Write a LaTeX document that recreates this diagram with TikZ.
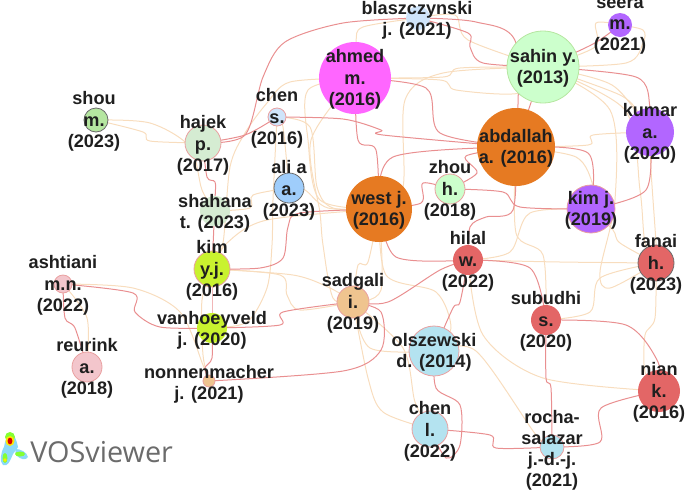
\documentclass[tikz,border=0pt]{standalone}
\usepackage{fontspec}
\setmainfont{Liberation Sans}
\newfontfamily\labfont{Liberation Sans Bold}
\newfontfamily\logofont{Open Sans}
\pgfdeclarelayer{edges}
\pgfsetlayers{edges,main}
\definecolor{cR}{HTML}{E98F90}
\definecolor{cO}{HTML}{F8DDBE}
\definecolor{cOut}{HTML}{E9A0A0}
\definecolor{cDark}{HTML}{6A6A6A}
\definecolor{cGreenA}{HTML}{B5E6A0}
\definecolor{cGreenB}{HTML}{D5ECD2}
\definecolor{cGreenC}{HTML}{CCFFCC}
\definecolor{cBlueA}{HTML}{CFE4FA}
\definecolor{cBlueB}{HTML}{9FCDFB}
\definecolor{cLime}{HTML}{C9F22F}
\definecolor{cPink}{HTML}{F3C6CC}
\definecolor{cTan}{HTML}{EFC48F}
\definecolor{cMag}{HTML}{FF66FF}
\definecolor{cPur}{HTML}{B266FF}
\definecolor{cOrg}{HTML}{E67A22}
\definecolor{cRed}{HTML}{E36666}
\definecolor{cCyan}{HTML}{B4E3F0}
\tikzset{
  x=0.75pt,y=-0.75pt,
  R/.style={draw=cR,line width=0.75pt},
  O/.style={draw=cO,line width=0.75pt},
  dot/.style={circle,inner sep=0pt,outer sep=0pt,minimum size=#1*1.5pt,line width=0.6pt,draw=cOut},
  lab/.style={align=center,inner sep=0pt,yshift=-1.1pt,text=black!88,font=\labfont\fontsize{13.6pt}{15.9pt}\selectfont},
  crv/.style={smooth,tension=0.5}
}
\begin{document}
\begin{tikzpicture}
\useasboundingbox (0,0) rectangle (685,490);
% circles
\node[dot=12,fill=cGreenA,draw=cDark] (shou) at (96,120) {};
\node[dot=18,fill=cGreenB] (hajek) at (203,143) {};
\node[dot=9,fill=cBlueA] (chens) at (277,117) {};
\node[dot=15,fill=cBlueB,draw=cDark] (alia) at (289,188) {};
\node[dot=15,fill=cGreenB,draw=none] (shahana) at (215,211) {};
\node[dot=18,fill=cLime] (kimy) at (212,269) {};
\node[dot=9,fill=cPink] (ashtiani) at (63,284) {};
\node[dot=15,fill=cPink] (reurink) at (87,367) {};
\node[dot=15,fill=cLime,draw=none] (vanh) at (212,328) {};
\node[dot=6,fill=cTan] (nonnen) at (209,381) {};
\node[dot=16,fill=cTan] (sadgali) at (353,302) {};
\node[dot=36,fill=cMag,draw=none] (ahmed) at (355,78) {};
\node[dot=12,fill=cBlueA,draw=none] (blasz) at (418,18) {};
\node[dot=36,fill=cGreenC,draw=cGreenA] (sahin) at (543,67) {};
\node[dot=12,fill=cPur,draw=none] (seera) at (620,25) {};
\node[dot=24,fill=cPur,draw=none] (kumar) at (650,132) {};
\node[dot=39,fill=cOrg,draw=none] (abdallah) at (516,147) {};
\node[dot=15,fill=cGreenC] (zhou) at (450,189) {};
\node[dot=24,fill=cPur] (kimj) at (591,209) {};
\node[dot=33,fill=cOrg,draw=none] (west) at (379,209) {};
\node[dot=15,fill=cRed,draw=none] (hilal) at (468,260) {};
\node[dot=18,fill=cRed,draw=cDark] (fanai) at (656,263) {};
\node[dot=15,fill=cRed,draw=none] (subudhi) at (546,320) {};
\node[dot=21,fill=cRed,draw=none] (nian) at (659,391) {};
\node[dot=25,fill=cCyan] (olsz) at (434,351) {};
\node[dot=18,fill=cCyan] (chenl) at (430,429) {};
\node[dot=12,fill=cCyan] (rocha) at (552,447) {};
% labels
\node[lab] (Lshou) at (94,120) {shou\\m.\\(2023)};
\node[lab] (Lhajek) at (203,144) {hajek\\p.\\(2017)};
\node[lab] (Lchens) at (277,117) {chen\\s.\\(2016)};
\node[lab] (Lalia) at (289,189) {ali a\\a.\\(2023)};
\node[lab] (Lshahana) at (215,212) {shahana\\t. (2023)};
\node[lab] (Lkimy) at (212,269) {kim\\y.j.\\(2016)};
\node[lab] (Lashtiani) at (63,284) {ashtiani\\m.n.\\(2022)};
\node[lab] (Lreurink) at (87,367) {reurink\\a.\\(2018)};
\node[lab] (Lvanh) at (212,329) {vanhoeyveld\\j. (2020)};
\node[lab] (Lnonnen) at (209,383) {nonnenmacher\\j. (2021)};
\node[lab] (Lsadgali) at (353,302) {sadgali\\i.\\(2019)};
\node[lab] (Lahmed) at (355,78) {ahmed\\m.\\(2016)};
\node[lab] (Lblasz) at (417,19) {blaszczynski\\j. (2021)};
\node[lab] (Lsahin) at (543,67) {sahin y.\\(2013)};
\node[lab] (Lseera) at (620,25) {seera\\m.\\(2021)};
\node[lab] (Lkumar) at (650,132) {kumar\\a.\\(2020)};
\node[lab] (Labdallah) at (516,147) {abdallah\\a. (2016)};
\node[lab] (Lzhou) at (450,189) {zhou\\h.\\(2018)};
\node[lab] (Lkimj) at (591,209) {kim j.\\(2019)};
\node[lab] (Lwest) at (379,209) {west j.\\(2016)};
\node[lab] (Lhilal) at (468,260) {hilal\\w.\\(2022)};
\node[lab] (Lfanai) at (656,263) {fanai\\h.\\(2023)};
\node[lab] (Lsubudhi) at (546,320) {subudhi\\s.\\(2020)};
\node[lab] (Lnian) at (659,391) {nian\\k.\\(2016)};
\node[lab] (Lolsz) at (434,351) {olszewski\\d. (2014)};
\node[lab] (Lchenl) at (430,430) {chen\\l.\\(2022)};
\node[lab] (Lrocha) at (552,449) {rocha-\\salazar\\j.-d.-j.\\(2021)};
% logo
\node[anchor=west,inner sep=0pt,text=black!58,font=\logofont\fontsize{21.6pt}{24pt}\selectfont] (logotext) at (30,452) {VOSviewer};
\fill[cyan!45] (10,434) .. controls (14,433) and (17,441) .. (18,447) .. controls (16,451) and (14,452) .. (13,454) .. controls (10,461) and (8,467) .. (3,465) .. controls (-1,462) and (1,452) .. (4,447) .. controls (5,441) and (7,435) .. (10,434) -- cycle;
\fill[cyan!45] (16,449) .. controls (20,449) and (27,452) .. (28,457) .. controls (26,461) and (20,459) .. (17,456) .. controls (15,454) and (15,451) .. (16,449) -- cycle;
\fill[green!60!yellow!80] (10,437) circle[radius=5];
\fill[green!60!yellow!80] (20,454) ellipse[x radius=5,y radius=2.5];
\fill[green!60!yellow!80] (5,458) ellipse[x radius=2.5,y radius=5];
\fill[yellow!90!orange] (10,441) ellipse[x radius=4.5,y radius=5];
\fill[yellow!90!orange] (5,460) circle[radius=1.8];
\fill[red!85!black] (10,441) ellipse[x radius=2.4,y radius=3.4];
% connectors
\begin{pgfonlayer}{edges}
\foreach \st/\pts in {
 O/{(shou.center)(150,123)(190,147)(202,190)(shahana.center)},
 O/{(shou.center)(143,132)(150,141)(hajek.center)},
 O/{(blasz.center)(363,27)(356,42)(ahmed.center)},
 O/{(blasz.center)(455,15)(468,40)(sahin.center)},
 O/{(sahin.center)(595,47)(596,23)(seera.center)},
 O/{(sahin.center)(626,63)(643,43)(643,30)(seera.center)},
 O/{(sahin.center)(612,85)(650,132)(kumar.center)},
 O/{(sahin.center)(620,95)(640,115)(kumar.center)},
 O/{(sahin.center)(610,110)(615,200)(600,272)(610,288)(fanai.center)},
 O/{(sahin.center)(625,110)(640,190)(645,243)(fanai.center)},
 O/{(kumar.center)(651,170)(656,243)(fanai.center)},
 O/{(kumar.center)(593,135)(588,145)(abdallah.center)},
 O/{(abdallah.center)(576,157)(593,186)(kimj.center)},
 O/{(west.center)(403,187)(405,100)(443,73)(sahin.center)},
 O/{(ahmed.center)(443,77)(460,68)(sahin.center)},
 O/{(ahmed.center)(440,80)(456,90)(520,93)(sahin.center)},
 O/{(ahmed.center)(290,82)(267,103)(245,133)(230,167)(223,243)(kimy.center)},
 O/{(ahmed.center)(308,90)(308,140)(320,200)(west.center)},
 O/{(chens.center)(310,127)(317,187)(333,208)(west.center)},
 O/{(alia.center)(305,190)(328,208)(west.center)},
 O/{(chens.center)(283,127)(alia.center)},
 O/{(chens.center)(273,200)(272,245)(267,288)(247,322)(vanh.center)},
 O/{(ahmed.center)(311,140)(320,213)(323,245)(333,298)(sadgali.center)},
 O/{(alia.center)(253,195)(250,208)(shahana.center)},
 O/{(west.center)(267,220)(227,243)(kimy.center)},
 O/{(kimy.center)(202,300)(203,355)(nonnen.center)},
 O/{(ashtiani.center)(133,288)(180,312)(203,365)(nonnen.center)},
 O/{(ashtiani.center)(87,318)(reurink.center)},
 O/{(kimy.center)(280,275)(287,295)(300,310)(sadgali.center)},
 O/{(kimy.center)(293,275)(330,288)(sadgali.center)},
 O/{(west.center)(386,275)(436,292)(451,328)(olsz.center)},
 O/{(west.center)(368,262)(358,265)(sadgali.center)},
 O/{(west.center)(381,290)(sadgali.center)},
 O/{(sadgali.center)(403,348)(415,402)(chenl.center)},
 O/{(sadgali.center)(368,378)(383,412)(chenl.center)},
 O/{(sadgali.center)(370,348)(olsz.center)},
 O/{(olsz.center)(476,351)(536,435)(rocha.center)},
 O/{(subudhi.center)(590,312)(600,278)(fanai.center)},
 O/{(hilal.center)(560,262)(fanai.center)},
 O/{(hilal.center)(483,335)(543,378)(nian.center)},
 O/{(fanai.center)(655,318)(645,335)(645,372)(nian.center)},
 O/{(hilal.center)(510,252)(530,213)(kimj.center)},
 O/{(abdallah.center)(516,233)(543,255)(subudhi.center)},
 O/{(kimj.center)(613,230)(620,243)(fanai.center)},
 R/{(hajek.center)(245,135)(263,77)(285,42)(343,23)(blasz.center)},
 R/{(hajek.center)(245,135)(chens.center)},
 R/{(chens.center)(343,119)(381,130)(383,135)(abdallah.center)},
 R/{(ahmed.center)(358,140)(376,150)(west.center)},
 R/{(west.center)(393,157)(abdallah.center)},
 R/{(ahmed.center)(426,88)(440,133)(abdallah.center)},
 R/{(blasz.center)(468,33)(470,47)(483,63)(sahin.center)},
 R/{(blasz.center)(476,22)(516,43)(abdallah.center)},
 R/{(sahin.center)(abdallah.center)},
 R/{(sahin.center)(593,44)(seera.center)},
 R/{(sahin.center)(636,77)(650,107)(kumar.center)},
 R/{(kumar.center)(646,190)(kimj.center)},
 R/{(abdallah.center)(588,153)(kimj.center)},
 R/{(zhou.center)(503,192)(520,207)(kimj.center)},
 R/{(abdallah.center)(513,210)(486,217)(470,227)(hilal.center)},
 R/{(zhou.center)(477,173)(466,156)(abdallah.center)},
 R/{(zhou.center)(423,183)(421,203)(west.center)},
 R/{(west.center)(300,213)(288,227)(283,258)(260,268)(kimy.center)},
 R/{(hajek.center)(207,177)(215,182)(215,200)(kimy.center)},
 R/{(kimy.center)(vanh.center)},
 R/{(vanh.center)(212,358)(205,368)(nonnen.center)},
 R/{(ashtiani.center)(133,293)(135,312)(160,327)(vanh.center)},
 R/{(ashtiani.center)(65,318)(75,328)(reurink.center)},
 R/{(vanh.center)(280,325)(283,312)(sadgali.center)},
 R/{(nonnen.center)(343,371)(381,350)(381,312)(sadgali.center)},
 R/{(sadgali.center)(388,302)(440,270)(hilal.center)},
 R/{(west.center)(396,257)(hilal.center)},
 R/{(hilal.center)(460,302)(453,308)(olsz.center)},
 R/{(olsz.center)(436,388)(460,405)(460,445)(446,458)(chenl.center)},
 R/{(chenl.center)(490,435)(496,448)(rocha.center)},
 R/{(rocha.center)(551,388)(546,378)(subudhi.center)},
 R/{(rocha.center)(600,442)(601,408)(nian.center)},
 R/{(subudhi.center)(626,325)(658,362)(nian.center)},
 R/{(subudhi.center)(530,268)(hilal.center)}%
}{
  \draw[\st] plot[crv] coordinates {\pts};
}
\end{pgfonlayer}
\end{tikzpicture}
\end{document}
